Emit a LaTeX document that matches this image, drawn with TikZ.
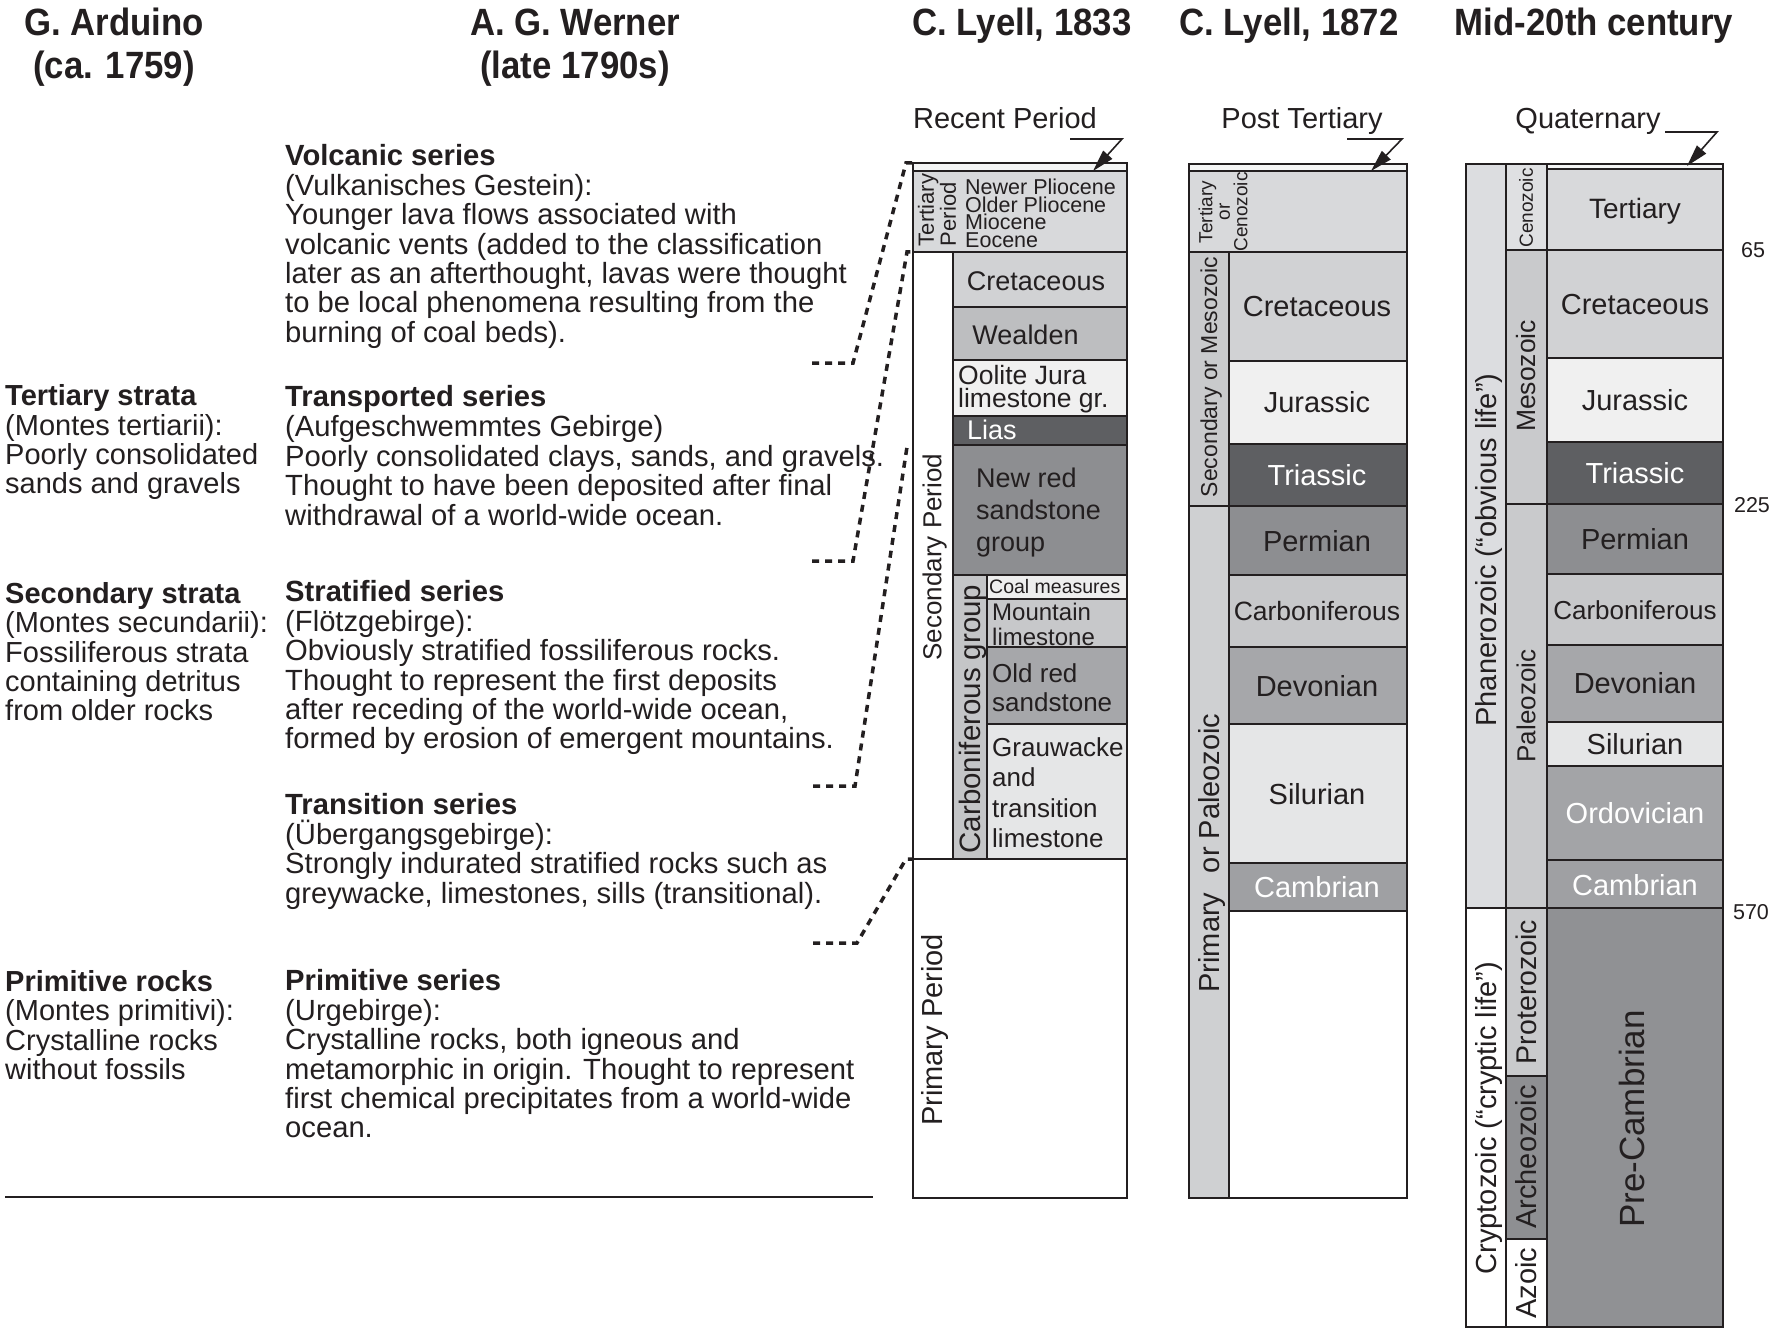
\documentclass[tikz,border=0pt]{standalone}
\usepackage{fontspec}
\setmainfont{Liberation Sans}
\newfontfamily\titlefont[FakeStretch=0.915]{Liberation Sans}
\usetikzlibrary{arrows.meta}
\newcommand\setfs[2]{\fontsize{#1pt}{#2pt}\selectfont\lineskiplimit=-100pt\lineskip=0pt\relax}
\newcommand\strat[5]{\path[fill=#5,draw=ink,line width=1.8pt] (#1,#2) rectangle (#3,#4);}
\definecolor{ink}{HTML}{231F20}
\definecolor{gStrip}{HTML}{F4F5F5}
\definecolor{gTert}{HTML}{D8D9DB}
\definecolor{gCret}{HTML}{D1D2D4}
\definecolor{gWeal}{HTML}{BDBEC0}
\definecolor{gJur}{HTML}{F0F0F0}
\definecolor{gTri}{HTML}{5E5F62}
\definecolor{gPerm}{HTML}{8D8E91}
\definecolor{gCarbG}{HTML}{C4C5C7}
\definecolor{gCoal}{HTML}{EEEEEE}
\definecolor{gCarb}{HTML}{C7C8CA}
\definecolor{gDev}{HTML}{A6A7AA}
\definecolor{gSil}{HTML}{E5E6E7}
\definecolor{gCamb}{HTML}{9FA0A3}
\definecolor{gOrd}{HTML}{A3A4A7}
\definecolor{gPre}{HTML}{909194}
\definecolor{gLab}{HTML}{C9CACC}
\definecolor{gLabB}{HTML}{CFD0D2}
\definecolor{gPhan}{HTML}{DCDDE0}
\definecolor{gCeno}{HTML}{DFE0E2}
\definecolor{gArch}{HTML}{8E8F92}
\begin{document}
\begin{tikzpicture}[x=1pt,y=-1pt,
  every node/.style={text=ink},
  lab/.style={inner sep=0pt, font=\setfs{#1}{#1}, text height={0.716*#1pt}, text depth=0pt},
  ttl/.style={inner sep=0pt, font=\titlefont\bfseries\setfs{38}{38}, text height=27.2pt, text depth=0pt},
  parablk/.style={inner sep=0pt, anchor=north west, align=left},
  outer/.style={draw=ink, line width=2.6pt},
  conn/.style={draw=ink, line width=3.5pt, dash pattern=on 7pt off 6pt},
  leader/.style={draw=ink, line width=1.6pt, -{Triangle[length=22pt,width=12pt]}}]
\fill[white] (0,0) rectangle (1775,1332);
\useasboundingbox (0,0) rectangle (1775,1332);

% ---------- titles
\node[ttl] (tA1) at (114,21.5) {G. Arduino};
\node[ttl] (tA2) at (114,64.5) {(ca. 1759)};
\node[ttl] (tW1) at (575,21.5) {A. G. Werner};
\node[ttl] (tW2) at (575,64.5) {(late 1790s)};
\node[ttl] (tL1) at (1022,21.5) {C. Lyell, 1833};
\node[ttl] (tL2) at (1289,21.5) {C. Lyell, 1872};
\node[ttl] (tM) at (1594,21.5) {Mid-20th century};

% ---------- Arduino
\node[parablk, font=\setfs{29}{29.4}] (aTer) at (5,384.5) {\textbf{Tertiary strata}\\(Montes tertiarii):\\Poorly consolidated\\sands and gravels};
\node[parablk, font=\setfs{29}{29.4}] (aSec) at (5,582) {\textbf{Secondary strata}\\(Montes secundarii):\\Fossiliferous strata\\containing detritus\\from older rocks};
\node[parablk, font=\setfs{29}{29.4}] (aPri) at (5,970) {\textbf{Primitive rocks}\\(Montes primitivi):\\Crystalline rocks\\without fossils};

% ---------- Werner
\node[parablk, font=\setfs{29.2}{29.4}] (wVol) at (285,144.5) {\textbf{Volcanic series}\\(Vulkanisches Gestein):\\Younger lava flows associated with\\volcanic vents (added to the classification\\later as an afterthought, lavas were thought\\to be local phenomena resulting from the\\burning of coal beds).};
\node[parablk, font=\setfs{29.2}{29.6}] (wTra) at (285,385.5) {\textbf{Transported series}\\(Aufgeschwemmtes Gebirge)\\Poorly consolidated clays, sands, and gravels.\\Thought to have been deposited after final\\withdrawal of a world-wide ocean.};
\node[parablk, font=\setfs{29.2}{29.4}] (wStr) at (285,580.5) {\textbf{Stratified series}\\(Flötzgebirge):\\Obviously stratified fossiliferous rocks.\\Thought to represent the first deposits\\after receding of the world-wide ocean,\\formed by erosion of emergent mountains.};
\node[parablk, font=\setfs{29.2}{29.4}] (wTrn) at (285,793.5) {\textbf{Transition series}\\(Übergangsgebirge):\\Strongly indurated stratified rocks such as\\greywacke, limestones, sills (transitional).};
\node[parablk, font=\setfs{29.2}{29.4}] (wPri) at (285,969.5) {\textbf{Primitive series}\\(Urgebirge):\\Crystalline rocks, both igneous and\\metamorphic in origin. Thought to represent\\first chemical precipitates from a world-wide\\ocean.};

\draw[ink, line width=1.5pt] (5,1197) -- (873,1197);

% ---------- Lyell 1833 column
\strat{913}{163}{1127}{171}{gStrip}
\strat{913}{171}{1127}{252}{gTert}
\strat{913}{252}{953}{859}{white}
\strat{953}{252}{1127}{307}{gCret}
\strat{953}{307}{1127}{360}{gWeal}
\strat{953}{360}{1127}{416}{gJur}
\strat{953}{416}{1127}{445}{gTri}
\strat{953}{445}{1127}{575}{gPerm}
\strat{953}{575}{987}{859}{gCarbG}
\strat{987}{575}{1127}{599}{gCoal}
\strat{987}{599}{1127}{647}{gCarb}
\strat{987}{647}{1127}{724}{gDev}
\strat{987}{724}{1127}{859}{gSil}
\strat{913}{859}{1127}{1198}{white}
\draw[outer] (913,163) rectangle (1127,1198);

\node[lab=29] (recent) at (1005,118) {Recent Period};
\node[inner sep=0pt, rotate=90, align=left, font=\setfs{22}{22}] (terp) at (937,210) {Tertiary\\Period};
\node[parablk, font=\setfs{21.5}{17.8}] (epochs) at (965,178.5) {Newer Pliocene\\Older Pliocene\\Miocene\\Eocene};
\node[lab=27] (cret1) at (1036,281) {Cretaceous};
\node[lab=27] (weal) at (1025.5,335) {Wealden};
\node[parablk, font=\setfs{26.5}{23}] (ool) at (958,365.4) {Oolite Jura\\limestone gr.};
\node[lab=27, anchor=west, text=white] (lias) at (967,430) {Lias};
\node[parablk, font=\setfs{27}{32}] (nrs) at (976,468.2) {New red\\sandstone\\group};
\node[lab=19.5, anchor=west] (coal) at (989,587) {Coal measures};
\node[parablk, font=\setfs{24}{25.5}] (mtn) at (992,602.5) {Mountain\\limestone};
\node[parablk, font=\setfs{26}{29}] (ors) at (992,663.6) {Old red\\sandstone};
\node[parablk, font=\setfs{26}{30.3}] (grw) at (992,737.6) {Grauwacke\\and\\transition\\limestone};
\node[lab=26, rotate=90] (secp) at (932,557) {Secondary Period};
\node[lab=29.5, rotate=90] (carbg) at (970,719) {Carboniferous group};
\node[lab=29, rotate=90] (primp) at (932,1030) {Primary Period};

\coordinate (rpA) at (1070,139);
\coordinate (rpB) at (1122,139);
\coordinate (rpC) at (1093,171);
\draw[leader] (rpA) -- (rpB) -- (rpC);

% ---------- connectors Werner -> Lyell 1833
\coordinate (c1a) at (812,363); \coordinate (c1b) at (853,363);
\coordinate (c1c) at (906,163); \coordinate (c1d) at (913,163);
\coordinate (c2a) at (812,561); \coordinate (c2b) at (853,561);
\coordinate (c2c) at (907,252); \coordinate (c2d) at (913,252);
\coordinate (c3a) at (813,786); \coordinate (c3b) at (855,786);
\coordinate (c3c) at (907,447); \coordinate (c3d) at (913,447);
\coordinate (c4a) at (813,943); \coordinate (c4b) at (857,943);
\coordinate (c4c) at (906,859); \coordinate (c4d) at (913,859);
\draw[conn] (c1a) -- (c1b) -- (c1c) -- (c1d);
\draw[conn] (c2a) -- (c2b) -- (c2c) -- (c2d);
\draw[conn] (c3a) -- (c3b) -- (c3c) -- (c3d);
\draw[conn] (c4a) -- (c4b) -- (c4c) -- (c4d);

% ---------- Lyell 1872 column
\strat{1189}{164}{1407}{171}{gStrip}
\strat{1189}{171}{1407}{252}{gTert}
\strat{1189}{252}{1229}{506}{gLab}
\strat{1189}{506}{1229}{1198}{gLabB}
\strat{1229}{252}{1407}{361}{gCret}
\strat{1229}{361}{1407}{444}{gJur}
\strat{1229}{444}{1407}{506}{gTri}
\strat{1229}{506}{1407}{575}{gPerm}
\strat{1229}{575}{1407}{647}{gCarb}
\strat{1229}{647}{1407}{724}{gDev}
\strat{1229}{724}{1407}{863}{gSil}
\strat{1229}{863}{1407}{911}{gCamb}
\strat{1229}{911}{1407}{1198}{white}
\draw[outer] (1189,164) rectangle (1407,1198);

\node[lab=29] (post) at (1302,118) {Post Tertiary};
\node[inner sep=0pt, rotate=90, align=center, font=\setfs{19}{17.5}] (tercen) at (1223,212) {Tertiary\\or\\Cenozoic};
\node[lab=23, rotate=90] (secmes) at (1209,377) {Secondary or Mesozoic};
\node[lab=29, rotate=90] (pripal) at (1209,853) {Primary\hspace{0.4em} or Paleozoic};
\node[lab=29] (cret2) at (1317,306) {Cretaceous};
\node[lab=29] (jur2) at (1317,402) {Jurassic};
\node[lab=29, text=white] (tri2) at (1317,475) {Triassic};
\node[lab=29] (perm2) at (1317,541) {Permian};
\node[lab=26.5] (carb2) at (1317,611) {Carboniferous};
\node[lab=29] (dev2) at (1317,686) {Devonian};
\node[lab=29] (sil2) at (1317,794) {Silurian};
\node[lab=29, text=white] (camb2) at (1317,887) {Cambrian};

\coordinate (ptA) at (1347,139);
\coordinate (ptB) at (1402,139);
\coordinate (ptC) at (1371,171);
\draw[leader] (ptA) -- (ptB) -- (ptC);

% ---------- Mid-20th century column
\strat{1466}{164}{1506}{908}{gPhan}
\strat{1466}{908}{1506}{1327}{white}
\strat{1506}{164}{1547}{250}{gCeno}
\strat{1506}{250}{1547}{504}{gLab}
\strat{1506}{504}{1547}{908}{gLab}
\strat{1506}{908}{1547}{1076}{gLab}
\strat{1506}{1076}{1547}{1239}{gArch}
\strat{1506}{1239}{1547}{1327}{white}
\strat{1547}{164}{1723}{169}{gStrip}
\strat{1547}{169}{1723}{250}{gTert}
\strat{1547}{250}{1723}{358}{gCret}
\strat{1547}{358}{1723}{442}{gJur}
\strat{1547}{442}{1723}{504}{gTri}
\strat{1547}{504}{1723}{574}{gPerm}
\strat{1547}{574}{1723}{645}{gCarb}
\strat{1547}{645}{1723}{722}{gDev}
\strat{1547}{722}{1723}{766}{gSil}
\strat{1547}{766}{1723}{860}{gOrd}
\strat{1547}{860}{1723}{908}{gCamb}
\strat{1547}{908}{1723}{1327}{gPre}
\draw[outer] (1466,164) rectangle (1723,1327);

\node[lab=29] (quat) at (1588,118) {Quaternary};
\node[lab=29, rotate=90] (phan) at (1486,550) {Phanerozoic (“obvious life”)};
\node[lab=29, rotate=90] (cryp) at (1486,1118) {Cryptozoic (“cryptic life”)};
\node[lab=19, rotate=90] (ceno) at (1526,208) {Cenozoic};
\node[lab=26.5, rotate=90] (meso) at (1526,376) {Mesozoic};
\node[lab=26, rotate=90] (paleo) at (1526,706) {Paleozoic};
\node[lab=28.5, rotate=90] (prot) at (1526,992) {Proterozoic};
\node[lab=29, rotate=90] (arch) at (1526,1157) {Archeozoic};
\node[lab=29, rotate=90] (azoic) at (1526,1283) {Azoic};
\node[lab=28] (tert3) at (1635,208) {Tertiary};
\node[lab=29] (cret3) at (1635,304) {Cretaceous};
\node[lab=29] (jur3) at (1635,400) {Jurassic};
\node[lab=29, text=white] (tri3) at (1635,473) {Triassic};
\node[lab=29] (perm3) at (1635,539) {Permian};
\node[lab=26] (carb3) at (1635,610) {Carboniferous};
\node[lab=29] (dev3) at (1635,683) {Devonian};
\node[lab=29] (sil3) at (1635,744) {Silurian};
\node[lab=29, text=white] (ord3) at (1635,813) {Ordovician};
\node[lab=29, text=white] (camb3) at (1635,885) {Cambrian};
\node[lab=35, rotate=90] (pre3) at (1632,1119) {Pre-Cambrian};
\node[lab=21.5] (n65) at (1753,250) {65};
\node[lab=21.5] (n225) at (1752,505) {225};
\node[lab=21.5] (n570) at (1751,912) {570};

\coordinate (qA) at (1665,132);
\coordinate (qB) at (1717,132);
\coordinate (qC) at (1687,166);
\draw[leader] (qA) -- (qB) -- (qC);
\end{tikzpicture}
\end{document}
